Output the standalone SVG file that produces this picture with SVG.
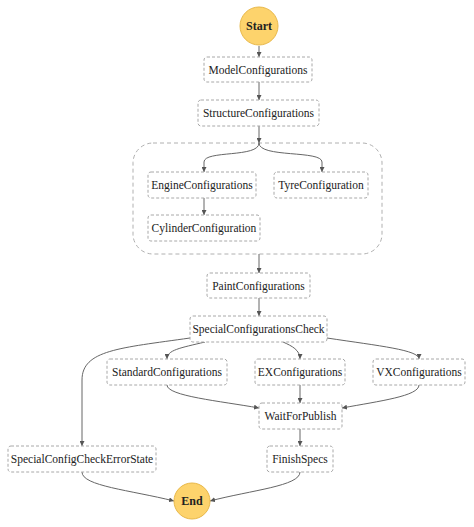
<svg xmlns="http://www.w3.org/2000/svg" width="474" height="527" viewBox="0 0 474 527">
<style>
.bg{fill:#ffffff}
.box{fill:#ffffff;stroke:#a8a8a8;stroke-width:1;stroke-dasharray:3,2}
.group{fill:none;stroke:#b0b0b0;stroke-width:1;stroke-dasharray:4,3}
.term{fill:#fdd36c;stroke:#e8b84a;stroke-width:1}
.lbl{font-family:"Liberation Serif","Times New Roman",serif;font-size:11.5px;fill:#222;text-anchor:middle;dominant-baseline:central}
.tlbl{font-family:"Liberation Serif","Times New Roman",serif;font-size:12px;font-weight:bold;fill:#222;text-anchor:middle;dominant-baseline:central}
.edge{fill:none;stroke:#666;stroke-width:1;marker-end:url(#arr)}
</style>
<defs>
<marker id="arr" viewBox="0 0 8 8" refX="8" refY="4" markerWidth="5" markerHeight="5" orient="auto" markerUnits="userSpaceOnUse">
<path d="M0,0 L8,4 L0,8 z" fill="#555"/>
</marker>
</defs>
<rect class="bg" x="0" y="0" width="474" height="527"/>
<g id="parallel-group"><rect class="group" x="133" y="143" width="249" height="111" rx="20" ry="20"/></g>
<g id="connectors">
<path class="edge" d="M259,46 L259,57"/>
<path class="edge" d="M259,82 L259,100"/>
<path class="edge" d="M259,126 L259,143"/>
<path class="edge" d="M259,143 C259,158 204,150 204,162 L204,172"/>
<path class="edge" d="M259,143 C259,158 322,150 322,162 L322,172"/>
<path class="edge" d="M204,198 L204,215"/>
<path class="edge" d="M259,254 L259,273"/>
<path class="edge" d="M259,298 L259,316"/>
<path class="edge" d="M190,338 C120,348 82,350 82,380 L82,446"/>
<path class="edge" d="M205,342 C180,348 167,350 167,359"/>
<path class="edge" d="M283,342 C292,346 300,350 300,359"/>
<path class="edge" d="M327,338 C380,346 419,350 419,359"/>
<path class="edge" d="M167,385 C167,396 220,401 259,408"/>
<path class="edge" d="M300,385 L300,403"/>
<path class="edge" d="M419,385 C419,396 380,401 342,408"/>
<path class="edge" d="M300,429 L300,446"/>
<path class="edge" d="M82,472 C82,486 130,490 174,501"/>
<path class="edge" d="M300,472 C300,486 252,490 210,501"/>
</g>
<g id="Start"><circle class="term" cx="259" cy="26" r="19"/><text class="tlbl" x="259" y="26">Start</text></g>
<g id="ModelConfigurations"><rect class="box" x="204" y="57" width="108" height="25" rx="3"/><text class="lbl" x="258" y="69.5">ModelConfigurations</text></g>
<g id="StructureConfigurations"><rect class="box" x="198" y="100" width="121" height="26" rx="3"/><text class="lbl" x="258.5" y="113">StructureConfigurations</text></g>
<g id="EngineConfigurations"><rect class="box" x="148" y="172" width="108" height="26" rx="3"/><text class="lbl" x="202" y="185">EngineConfigurations</text></g>
<g id="TyreConfiguration"><rect class="box" x="274" y="172" width="94" height="26" rx="3"/><text class="lbl" x="321" y="185">TyreConfiguration</text></g>
<g id="CylinderConfiguration"><rect class="box" x="148" y="215" width="112" height="26" rx="3"/><text class="lbl" x="204" y="228">CylinderConfiguration</text></g>
<g id="PaintConfigurations"><rect class="box" x="207" y="273" width="103" height="25" rx="3"/><text class="lbl" x="258.5" y="285.5">PaintConfigurations</text></g>
<g id="SpecialConfigurationsCheck"><rect class="box" x="190" y="316" width="137" height="26" rx="3"/><text class="lbl" x="258.5" y="329">SpecialConfigurationsCheck</text></g>
<g id="StandardConfigurations"><rect class="box" x="107" y="359" width="120" height="26" rx="3"/><text class="lbl" x="167" y="372">StandardConfigurations</text></g>
<g id="EXConfigurations"><rect class="box" x="255" y="359" width="90" height="26" rx="3"/><text class="lbl" x="300" y="372">EXConfigurations</text></g>
<g id="VXConfigurations"><rect class="box" x="373" y="359" width="92" height="26" rx="3"/><text class="lbl" x="419" y="372">VXConfigurations</text></g>
<g id="WaitForPublish"><rect class="box" x="259" y="403" width="83" height="26" rx="3"/><text class="lbl" x="300.5" y="416">WaitForPublish</text></g>
<g id="SpecialConfigCheckErrorState"><rect class="box" x="8" y="446" width="148" height="26" rx="3"/><text class="lbl" x="82" y="459">SpecialConfigCheckErrorState</text></g>
<g id="FinishSpecs"><rect class="box" x="267" y="446" width="66" height="26" rx="3"/><text class="lbl" x="300" y="459">FinishSpecs</text></g>
<g id="End"><circle class="term" cx="192" cy="501" r="18"/><text class="tlbl" x="192" y="501">End</text></g>
</svg>
